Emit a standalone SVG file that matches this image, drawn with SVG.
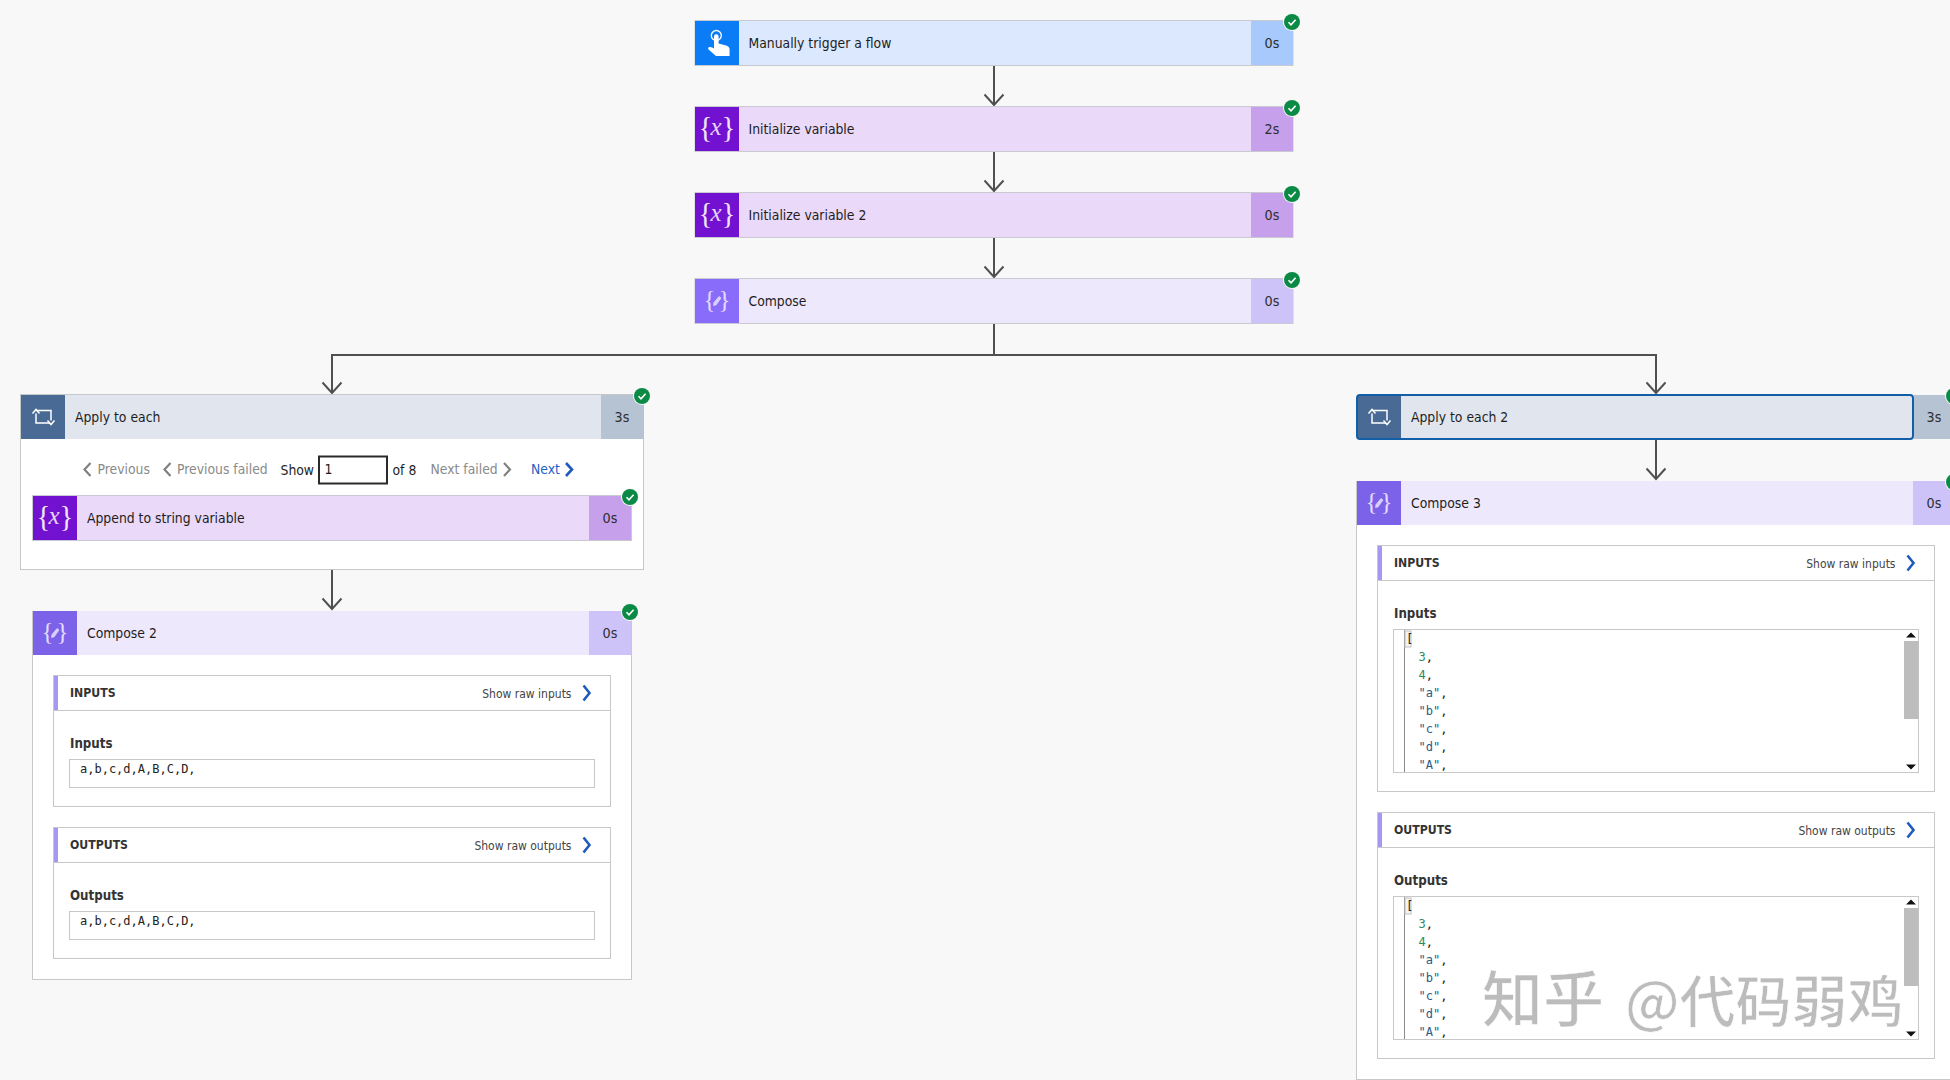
<svg xmlns="http://www.w3.org/2000/svg" width="1950" height="1080" viewBox="0 0 1950 1080">
<style>
text{font-family:"DejaVu Sans","Noto Sans",sans-serif;font-stretch:condensed;font-size:13.8px;fill:#1e1e1e}
.dur{text-anchor:middle;fill:#2e2e2e;font-size:14.2px}
.bd{stroke:#c9c9d2;stroke-width:1}
.conn{fill:none;stroke:#505050;stroke-width:2}
.panel{fill:#fff;stroke:#c8c8c8;stroke-width:1}
.hd{font-weight:700;font-size:12.2px;fill:#333}
.lb{font-weight:700;font-size:13.2px;fill:#333}
.raw{font-size:12px;fill:#444;text-anchor:end}
.chev{fill:none;stroke:#1f5bbd;stroke-width:2.6}
.gch{fill:none;stroke:#808080;stroke-width:2.2}
.gr{fill:#8a8a8a}
.mono{font-family:"DejaVu Sans Mono","Liberation Mono",monospace;font-stretch:normal;font-size:12px;fill:#222}
.num{fill:#2f8a5f}.str{fill:#2a5a8c}
.box{fill:#fff;stroke:#c8c8c8;stroke-width:1}
.ico-t{font-family:"Liberation Serif",serif;font-stretch:normal}
.wm{font-family:"Noto Sans CJK SC",sans-serif;font-stretch:normal;font-weight:500;fill:#bcbcbc;stroke:#fff;stroke-width:.6px}
</style>
<defs>
<g id="check"><circle r="9" fill="#f8f8f8"/><circle r="8" fill="#0b8a45"/><path d="M-3.500 0.200L-1 2.800L3.600-2.200" fill="none" stroke="#fff" stroke-width="1.600"/></g>
<g id="var"><text class="ico-t" x="-18.500" y="8" style="font-size:29px;fill:#f0e4fb">{</text><text class="ico-t" x="-6.500" y="6" style="font-size:25px;font-style:italic;fill:#e6d4f8">x</text><text class="ico-t" x="4.500" y="8" style="font-size:29px;fill:#f0e4fb">}</text></g>
<g id="cmp"><text class="ico-t" x="-13.500" y="7" style="font-size:25px;fill:#e2dcff">{</text><text class="ico-t" x="1.500" y="7" style="font-size:25px;fill:#e2dcff">}</text><path d="M-3.500 4.500L-3 1.500L2-4.500L4-3L-1 4Z" fill="#e8e2ff" fill-opacity=".85" stroke="#e8e2ff" stroke-width=".6"/></g>
<g id="loop"><path d="M-7-3.500V6H7M-7-6.500H8V3.500" fill="none" stroke="#fff" stroke-width="1.500"/><path d="M-10.500-3.500L-7-7.500L-3.500-3.500M4.500 3.500L8 7.500L11.500 3.500" fill="none" stroke="#fff" stroke-width="1.500"/></g>
<g id="ar"><path class="conn" d="M-9.500-10.500L0 0L9.500-10.500"/></g>
<path id="rc" class="chev" d="M-3-7.500L3 0L-3 7.500"/>
</defs>
<rect width="1950" height="1080" fill="#f8f8f8"/>

<g id="connectors">
<path class="conn" d="M994 65V104M994 151V190M994 237V276M994 323V355M332 392V355H1656V392M332 569V608M1656 439V478"/>
<use href="#ar" x="994" y="105"/><use href="#ar" x="994" y="191"/><use href="#ar" x="994" y="277"/>
<use href="#ar" x="332" y="393"/><use href="#ar" x="1656" y="393"/><use href="#ar" x="332" y="609"/><use href="#ar" x="1656" y="479"/>
</g>

<g id="n-trigger">
<rect class="bd" x="695" y="20.500" width="598" height="45" fill="#dce8fd"/><rect x="695" y="21" width="44" height="44" fill="#0a7cf5"/><rect x="1251" y="21" width="42" height="44" fill="#a7c9fb"/>
<path d="M714 36.500a2.300 2.300 0 0 1 4.600 0V43.500l7.500 2q3.500 1 3.500 4V56H716l-7.500-6.500q-1-2 1-2.500q2-.5 4.500 1.500z" fill="#fff"/><circle cx="716.300" cy="35.500" r="5" fill="none" stroke="#fff" stroke-width="1.300"/>
<text x="748.500" y="47.500">Manually trigger a flow</text><text class="dur" x="1272" y="47.500">0s</text><use href="#check" x="1292" y="22"/>
</g>
<g id="n-init1">
<rect class="bd" x="695" y="106.500" width="598" height="45" fill="#ead9f8"/><rect x="695" y="107" width="44" height="44" fill="#7211cf"/><rect x="1251" y="107" width="42" height="44" fill="#c6a0ea"/><use href="#var" x="717" y="129"/>
<text x="748.500" y="133.500">Initialize variable</text><text class="dur" x="1272" y="133.500">2s</text><use href="#check" x="1292" y="108"/>
</g>
<g id="n-init2">
<rect class="bd" x="695" y="192.500" width="598" height="45" fill="#ead9f8"/><rect x="695" y="193" width="44" height="44" fill="#7211cf"/><rect x="1251" y="193" width="42" height="44" fill="#c6a0ea"/><use href="#var" x="717" y="215"/>
<text x="748.500" y="219.500">Initialize variable 2</text><text class="dur" x="1272" y="219.500">0s</text><use href="#check" x="1292" y="194"/>
</g>
<g id="n-compose">
<rect class="bd" x="695" y="278.500" width="598" height="45" fill="#ede8fc"/><rect x="695" y="279" width="44" height="44" fill="#8a6cfa"/><rect x="1251" y="279" width="42" height="44" fill="#cdc3f9"/><use href="#cmp" x="717" y="301"/>
<text x="748.500" y="305.500">Compose</text><text class="dur" x="1272" y="305.500">0s</text><use href="#check" x="1292" y="280"/>
</g>

<g id="n-apply1">
<rect class="panel" x="20.500" y="394.500" width="623" height="175"/>
<rect x="21" y="395" width="623" height="44" fill="#e1e6ee"/><rect x="21" y="395" width="44" height="44" fill="#486a94"/><rect x="601" y="395" width="43" height="44" fill="#b6c3d3"/><use href="#loop" x="43" y="417"/>
<text x="75" y="422">Apply to each</text><text class="dur" x="622" y="422">3s</text><use href="#check" x="642" y="396"/>
<path class="gch" d="M90.500 463L84.500 469.500L90.500 476M170.500 463L164.500 469.500L170.500 476M504 463L510 469.500L504 476"/>
<path class="chev" d="M566 463L572 469.500L566 476"/>
<text class="gr" x="97.500" y="474">Previous</text><text class="gr" x="177" y="474">Previous failed</text>
<text x="280.500" y="475">Show</text>
<rect x="319" y="456.500" width="68" height="27" fill="#fff" stroke="#2a2a2a" stroke-width="2"/><text x="324.500" y="474">1</text>
<text x="392.500" y="475">of 8</text><text class="gr" x="430.500" y="474">Next failed</text><text x="531" y="474" style="fill:#1f5fc4">Next</text>
</g>
<g id="n-append">
<rect class="bd" x="32.500" y="495.500" width="599" height="45" fill="#ead9f8"/><rect x="33" y="496" width="44" height="44" fill="#7211cf"/><rect x="589" y="496" width="42" height="44" fill="#c6a0ea"/><use href="#var" x="55" y="518"/>
<text x="87" y="522.500">Append to string variable</text><text class="dur" x="610" y="522.500">0s</text><use href="#check" x="630" y="497"/>
</g>

<g id="n-compose2">
<rect class="panel" x="32.500" y="611.500" width="599" height="368"/>
<rect x="33" y="611" width="598" height="44" fill="#ede8fc"/><rect x="33" y="611" width="44" height="44" fill="#7c62e8"/><rect x="589" y="611" width="42" height="44" fill="#cdc3f9"/><use href="#cmp" x="55" y="633"/>
<text x="87" y="637.500">Compose 2</text><text class="dur" x="610" y="637.500">0s</text><use href="#check" x="630" y="612"/>
<rect class="panel" x="53.500" y="675.500" width="557" height="131"/><path d="M54 710.500H610" stroke="#c8c8c8"/><rect x="54" y="676" width="4" height="34" fill="#a796f2"/>
<text class="hd" x="70" y="697">INPUTS</text><text class="raw" x="571.500" y="698">Show raw inputs</text><use href="#rc" x="586.500" y="693"/>
<text class="lb" x="70" y="748">Inputs</text><rect class="box" x="69.500" y="759.500" width="525" height="28"/><text class="mono" x="80" y="772.500">a,b,c,d,A,B,C,D,</text>
<rect class="panel" x="53.500" y="827.500" width="557" height="131"/><path d="M54 862.500H610" stroke="#c8c8c8"/><rect x="54" y="828" width="4" height="34" fill="#a796f2"/>
<text class="hd" x="70" y="849">OUTPUTS</text><text class="raw" x="571.500" y="850">Show raw outputs</text><use href="#rc" x="586.500" y="845"/>
<text class="lb" x="70" y="900">Outputs</text><rect class="box" x="69.500" y="911.500" width="525" height="28"/><text class="mono" x="80" y="924.500">a,b,c,d,A,B,C,D,</text>
</g>

<g id="n-apply2">
<rect x="1914" y="395" width="36" height="44" fill="#b6c3d3"/><text class="dur" x="1934" y="422">3s</text><use href="#check" x="1954" y="396"/>
<rect x="1357" y="395" width="556" height="44" rx="3" fill="#e1e6ee"/><path d="M1360 395H1401V439H1360a3 3 0 0 1-3-3V398a3 3 0 0 1 3-3z" fill="#486a94"/><use href="#loop" x="1379" y="417"/>
<rect x="1357" y="395" width="556" height="44" rx="3" fill="none" stroke="#135ea8" stroke-width="2"/>
<text x="1411" y="422">Apply to each 2</text>
</g>

<g id="n-compose3">
<rect class="panel" x="1356.500" y="481.500" width="620" height="598"/>
<rect x="1357" y="481" width="593" height="44" fill="#ede8fc"/><rect x="1357" y="481" width="44" height="44" fill="#7c62e8"/><rect x="1913" y="481" width="37" height="44" fill="#cdc3f9"/><use href="#cmp" x="1379" y="503"/>
<text x="1411" y="508">Compose 3</text><text class="dur" x="1934" y="508">0s</text><use href="#check" x="1954" y="482"/>

<rect class="panel" x="1377.500" y="545.500" width="557" height="246"/><path d="M1378 580.500H1934" stroke="#c8c8c8"/><rect x="1378" y="546" width="4" height="34" fill="#a796f2"/>
<text class="hd" x="1394" y="567">INPUTS</text><text class="raw" x="1895.500" y="568">Show raw inputs</text><use href="#rc" x="1910.500" y="563"/>
<text class="lb" x="1394" y="618">Inputs</text><rect class="box" x="1393.500" y="629.500" width="525" height="143"/>
<path d="M1404.500 630V772" stroke="#8a8a8a"/><rect x="1405" y="631" width="6" height="16" fill="#f3f3f3" stroke="#c0c0c0"/>
<rect x="1904" y="641" width="14.500" height="78" fill="#bdbdbd"/><path d="M1911 632.500l5 5h-10zM1911 769.500l5-5h-10z" fill="#111"/>
<text class="mono" x="1406" y="642.700">[</text>
<text class="mono" x="1418.500" y="660.700"><tspan class="num">3</tspan>,</text><text class="mono" x="1418.500" y="678.700"><tspan class="num">4</tspan>,</text>
<text class="mono" x="1418.500" y="696.700"><tspan class="str">"a"</tspan>,</text><text class="mono" x="1418.500" y="714.700"><tspan class="str">"b"</tspan>,</text>
<text class="mono" x="1418.500" y="732.700"><tspan class="str">"c"</tspan>,</text><text class="mono" x="1418.500" y="750.700"><tspan class="str">"d"</tspan>,</text>
<text class="mono" x="1418.500" y="768.700"><tspan class="str">"A"</tspan>,</text>

<rect class="panel" x="1377.500" y="812.500" width="557" height="246"/><path d="M1378 847.500H1934" stroke="#c8c8c8"/><rect x="1378" y="813" width="4" height="34" fill="#a796f2"/>
<text class="hd" x="1394" y="834">OUTPUTS</text><text class="raw" x="1895.500" y="835">Show raw outputs</text><use href="#rc" x="1910.500" y="830"/>
<text class="lb" x="1394" y="885">Outputs</text><rect class="box" x="1393.500" y="896.500" width="525" height="143"/>
<path d="M1404.500 897V1039" stroke="#8a8a8a"/><rect x="1405" y="898" width="6" height="16" fill="#f3f3f3" stroke="#c0c0c0"/>
<rect x="1904" y="908" width="14.500" height="78" fill="#bdbdbd"/><path d="M1911 899.500l5 5h-10zM1911 1036.500l5-5h-10z" fill="#111"/>
<text class="mono" x="1406" y="909.700">[</text>
<text class="mono" x="1418.500" y="927.700"><tspan class="num">3</tspan>,</text><text class="mono" x="1418.500" y="945.700"><tspan class="num">4</tspan>,</text>
<text class="mono" x="1418.500" y="963.700"><tspan class="str">"a"</tspan>,</text><text class="mono" x="1418.500" y="981.700"><tspan class="str">"b"</tspan>,</text>
<text class="mono" x="1418.500" y="999.700"><tspan class="str">"c"</tspan>,</text><text class="mono" x="1418.500" y="1017.700"><tspan class="str">"d"</tspan>,</text>
<text class="mono" x="1418.500" y="1035.700"><tspan class="str">"A"</tspan>,</text>
</g>

<text id="watermark" class="wm" y="1022" style="font-size:61px"><tspan x="1482">知乎</tspan><tspan x="1625" style="font-size:56px">@代码弱鸡</tspan></text>
</svg>
